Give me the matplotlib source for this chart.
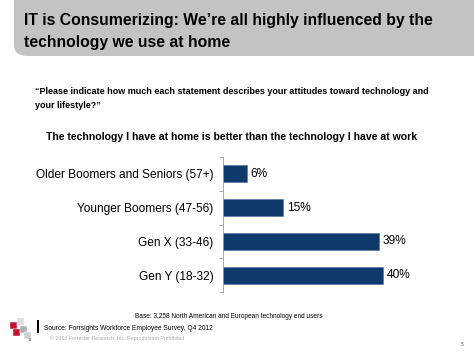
import matplotlib.pyplot as plt
from matplotlib.patches import FancyBboxPatch, Rectangle

plt.rcParams['font.family'] = ['Liberation Sans', 'DejaVu Sans']

categories = ["Older Boomers and Seniors (57+)", "Younger Boomers (47-56)",
              "Gen X (33-46)", "Gen Y (18-32)"]
values = [6, 15, 39, 40]
value_labels = ["6%", "15%", "39%", "40%"]

W, H = 474, 355
bar_color = "#0d3a6b"


def fx(px):
    return px / W


def fy(py):
    return 1 - py / H


fig = plt.figure(figsize=(W / 100, H / 100), dpi=100)
fig.patch.set_facecolor("white")

# header box
hdr = FancyBboxPatch((fx(14), fy(56)), fx(500) - fx(14), fy(0) - fy(56) + 0.05,
                     boxstyle="round,pad=0,rounding_size=0.03",
                     transform=fig.transFigure, facecolor="#c3c3c3",
                     edgecolor="none")
fig.patches.append(hdr)
fig.text(fx(24), fy(21), "IT is Consumerizing: We\u2019re all highly influenced by the",
         fontsize=11.3, fontweight="bold", va="center", ha="left")
fig.text(fx(24), fy(42), "technology we use at home",
         fontsize=11.3, fontweight="bold", va="center", ha="left")

fig.text(fx(35), fy(91), "\u201cPlease indicate how much each statement describes your attitudes toward technology and",
         fontsize=6.45, fontweight="bold", va="center", ha="left")
fig.text(fx(35), fy(105), "your lifestyle?\u201d",
         fontsize=6.45, fontweight="bold", va="center", ha="left")

fig.text(fx(232), fy(137), "The technology I have at home is better than the technology I have at work",
         fontsize=7.6, fontweight="bold", va="center", ha="center")

ax = fig.add_axes([fx(223), fy(292), fx(423) - fx(223), (292 - 157) / H])
y = list(range(len(categories)))
ax.barh(y, values, height=0.5, color=bar_color, edgecolor="#4a6f9a", linewidth=0.4)
for yi, v, lab in zip(y, values, value_labels):
    ax.text(v + 0.9, yi, lab, va="center", ha="left", fontsize=8.6)
ax.set_xlim(0, 50)
ax.set_ylim(3.5, -0.5)
ax.set_yticks(y)
ax.set_yticklabels(categories, fontsize=8.6)
ax.tick_params(axis="y", which="major", length=0, pad=7)
ax.set_yticks([-0.5, 0.5, 1.5, 2.5, 3.5], minor=True)
ax.tick_params(axis="y", which="minor", length=3, color="#999999", width=0.6)
ax.set_xticks([])
for s in ["top", "right", "bottom"]:
    ax.spines[s].set_visible(False)
ax.spines["left"].set_color("#999999")
ax.spines["left"].set_linewidth(0.6)

# footer
fig.text(fx(229), fy(317), "Base: 3,258 North American and European technology end users",
         fontsize=4.7, va="center", ha="center")
fig.text(fx(44), fy(328), "Source: Forrsights Workforce Employee Survey, Q4 2012",
         fontsize=4.75, va="center", ha="left")
fig.text(fx(50), fy(338), "\u00a9 2012 Forrester Research, Inc. Reproduction Prohibited",
         fontsize=3.75, va="center", ha="left", color="#aaaaaa")
fig.text(fx(30), fy(340), "11", fontsize=3.2, va="center", ha="center", color="#555555")
fig.text(fx(462), fy(345), "5", fontsize=3.5, va="center", ha="center", color="#555555")
fig.patches.append(Rectangle((fx(37), fy(333)), fx(2), fy(320) - fy(333),
                             transform=fig.transFigure, facecolor="black"))
# logo cubes
for (x0, y0, c) in [(10, 322, "#c8102e"), (17, 318, "#dddddd"), (13, 329, "#c8102e"),
                    (20, 326, "#b0b0b0"), (24, 332, "#d0d0d0")]:
    fig.patches.append(Rectangle((fx(x0), fy(y0 + 7)), fx(7), fy(y0) - fy(y0 + 7),
                                 transform=fig.transFigure, facecolor=c,
                                 edgecolor="white", linewidth=0.3))

fig.savefig("out.png", dpi=100)
